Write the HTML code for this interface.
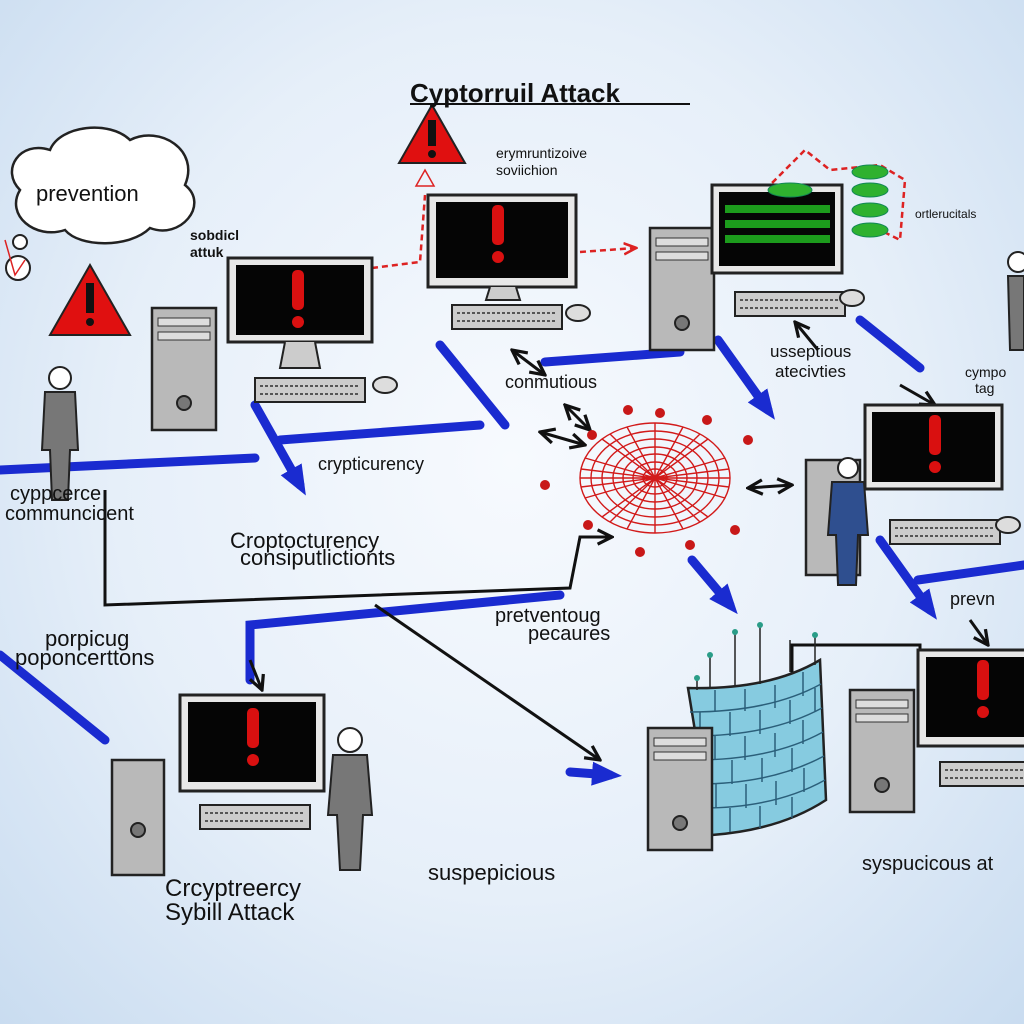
<!DOCTYPE html>
<html><head><meta charset="utf-8"><style>
html,body{margin:0;padding:0;width:1024px;height:1024px;overflow:hidden}
body{background:radial-gradient(ellipse at 50% 45%,#f7fafe 0%,#e6eff9 55%,#c9dcf0 100%);font-family:"Liberation Sans",sans-serif}
svg{position:absolute;left:0;top:0}
text{font-family:"Liberation Sans",sans-serif;fill:#111}
</style></head><body>
<svg width="1024" height="1024" viewBox="0 0 1024 1024">
<defs>
<marker id="ab" markerUnits="userSpaceOnUse" viewBox="0 0 10 10" refX="6" refY="5" markerWidth="30" markerHeight="30" orient="auto"><path d="M0,1 L10,5 L0,9 z" fill="#1a2bd0"/></marker>
<marker id="ak" markerUnits="userSpaceOnUse" viewBox="0 0 10 10" refX="9" refY="5" markerWidth="18" markerHeight="18" orient="auto"><path d="M1,1 L9,5 L1,9" fill="none" stroke="#111" stroke-width="1.8"/></marker>
<marker id="aks" markerUnits="userSpaceOnUse" viewBox="0 0 10 10" refX="1" refY="5" markerWidth="18" markerHeight="18" orient="auto"><path d="M9,1 L1,5 L9,9" fill="none" stroke="#111" stroke-width="1.8"/></marker>
<marker id="ar" markerUnits="userSpaceOnUse" viewBox="0 0 10 10" refX="8" refY="5" markerWidth="14" markerHeight="14" orient="auto"><path d="M0,1 L9,5 L0,9" fill="none" stroke="#d22" stroke-width="1.8"/></marker>
<g id="tower"><rect x="0" y="0" width="64" height="122" fill="#b9b9b9" stroke="#222" stroke-width="2.5"/><rect x="6" y="10" width="52" height="8" fill="#ddd" stroke="#333"/><rect x="6" y="24" width="52" height="8" fill="#ddd" stroke="#333"/><circle cx="32" cy="95" r="7" fill="#777" stroke="#222" stroke-width="2"/></g>
<g id="kb"><rect x="0" y="0" width="110" height="24" fill="#ccc" stroke="#222" stroke-width="2"/><path d="M5,8 H105 M5,16 H105" stroke="#555" stroke-width="2" stroke-dasharray="3 2"/></g>
<g id="excl"><rect x="-6" y="-30" width="12" height="40" rx="5" fill="#d91010"/><circle cx="0" cy="22" r="6" fill="#d91010"/></g>
</defs>

<g stroke="#1a2bd0" stroke-width="9" fill="none" stroke-linecap="round">
<path d="M0,470 L255,458"/>
<path d="M280,440 L480,425"/>
<path d="M255,405 L300,485" marker-end="url(#ab)"/>
<path d="M440,345 L505,425"/>
<path d="M545,362 L680,352"/>
<path d="M718,340 L768,410" marker-end="url(#ab)"/>
<path d="M860,320 L920,368"/>
<path d="M0,655 L105,740"/>
<path d="M250,680 L250,625 L560,595"/>
<path d="M692,560 L730,605" marker-end="url(#ab)"/>
<path d="M880,540 L930,610" marker-end="url(#ab)"/>
<path d="M918,580 L1024,565"/>
<path d="M570,772 L610,775" marker-end="url(#ab)"/>
</g>
<g stroke="#111" stroke-width="3" fill="none">
<path d="M105,490 L105,605 L570,588 L580,537 L612,537" marker-end="url(#ak)"/>
<path d="M375,605 L600,760" marker-end="url(#ak)"/>
<path d="M250,660 L262,690" marker-end="url(#ak)"/>
<path d="M512,350 L545,375" marker-start="url(#aks)" marker-end="url(#ak)"/>
<path d="M565,405 L590,430" marker-start="url(#aks)" marker-end="url(#ak)"/>
<path d="M540,432 L585,445" marker-start="url(#aks)" marker-end="url(#ak)"/>
<path d="M748,488 L792,485" marker-start="url(#aks)" marker-end="url(#ak)"/>
<path d="M795,322 L818,350" marker-start="url(#aks)"/>
<path d="M900,385 L935,405" marker-end="url(#ak)"/>
<path d="M970,620 L988,645" marker-end="url(#ak)"/>
<path d="M792,680 L792,645 L920,645 L920,662"/>
</g>
<g stroke="#d22" stroke-width="2.5" fill="none" stroke-dasharray="6 4">
<path d="M372,268 L420,262 L425,195"/>
<path d="M580,252 L635,248" marker-end="url(#ar)"/>
<path d="M765,190 L805,150 L830,170 L880,165 L905,180 L900,240 L870,225"/>
</g>

<g transform="translate(655,478)" stroke="#d21a1a" fill="none" stroke-width="1.4">
<ellipse rx="75" ry="55"/><ellipse rx="64" ry="47"/><ellipse rx="53" ry="39"/><ellipse rx="42" ry="31"/><ellipse rx="32" ry="24"/><ellipse rx="22" ry="16"/><ellipse rx="12" ry="9"/>
<path d="M-75,0 L75,0 M0,-55 L0,55 M-53,-39 L53,39 M-53,39 L53,-39 M-70,-20 L70,20 M-70,20 L70,-20 M-28,-51 L28,51 M28,-51 L-28,51 M-45,-44 L45,44 M45,-44 L-45,44 M-74,-9 L74,9 M-74,9 L74,-9"/>
</g>
<g fill="#c81818">
<circle cx="592" cy="435" r="5"/><circle cx="628" cy="410" r="5"/><circle cx="660" cy="413" r="5"/><circle cx="707" cy="420" r="5"/><circle cx="748" cy="440" r="5"/><circle cx="545" cy="485" r="5"/><circle cx="588" cy="525" r="5"/><circle cx="690" cy="545" r="5"/><circle cx="735" cy="530" r="5"/><circle cx="640" cy="552" r="5"/>
</g>

<use href="#tower" x="152" y="308"/>
<rect x="228" y="258" width="144" height="84" fill="#e8e8e8" stroke="#222" stroke-width="3"/>
<rect x="236" y="265" width="128" height="70" fill="#050505"/>
<use href="#excl" x="298" y="300"/>
<path d="M285,342 L280,368 L320,368 L315,342" fill="#ccc" stroke="#222" stroke-width="2"/>
<use href="#kb" x="255" y="378"/><ellipse cx="385" cy="385" rx="12" ry="8" fill="#ddd" stroke="#222" stroke-width="2"/>
<rect x="428" y="195" width="148" height="92" fill="#e8e8e8" stroke="#222" stroke-width="3"/>
<rect x="436" y="202" width="132" height="76" fill="#050505"/>
<use href="#excl" x="498" y="235"/>
<path d="M490,287 L486,300 L520,300 L516,287" fill="#ccc" stroke="#222" stroke-width="2"/>
<use href="#kb" x="452" y="305"/><ellipse cx="578" cy="313" rx="12" ry="8" fill="#ddd" stroke="#222" stroke-width="2"/>
<use href="#tower" x="650" y="228"/>
<rect x="712" y="185" width="130" height="88" fill="#e8e8e8" stroke="#222" stroke-width="3"/>
<rect x="719" y="192" width="116" height="74" fill="#050505"/>
<g fill="#22c022"><rect x="725" y="205" width="105" height="8" opacity=".8"/><rect x="725" y="220" width="105" height="8" opacity=".8"/><rect x="725" y="235" width="105" height="8" opacity=".8"/></g>
<g fill="#2fb12f" stroke="#185"><ellipse cx="870" cy="172" rx="18" ry="7"/><ellipse cx="870" cy="190" rx="18" ry="7"/><ellipse cx="870" cy="210" rx="18" ry="7"/><ellipse cx="870" cy="230" rx="18" ry="7"/><ellipse cx="790" cy="190" rx="22" ry="7"/></g>
<use href="#kb" x="735" y="292"/><ellipse cx="852" cy="298" rx="12" ry="8" fill="#ddd" stroke="#222" stroke-width="2"/>
<rect x="806" y="460" width="54" height="115" fill="#b9b9b9" stroke="#222" stroke-width="2.5"/>
<rect x="865" y="405" width="137" height="84" fill="#e8e8e8" stroke="#222" stroke-width="3"/>
<rect x="872" y="412" width="123" height="70" fill="#050505"/>
<use href="#excl" x="935" y="445"/>
<use href="#kb" x="890" y="520"/><ellipse cx="1008" cy="525" rx="12" ry="8" fill="#ddd" stroke="#222" stroke-width="2"/>
<rect x="112" y="760" width="52" height="115" fill="#b9b9b9" stroke="#222" stroke-width="2.5"/><circle cx="138" cy="830" r="7" fill="#777" stroke="#222" stroke-width="2"/>
<rect x="180" y="695" width="144" height="96" fill="#e8e8e8" stroke="#222" stroke-width="3"/>
<rect x="188" y="702" width="128" height="80" fill="#050505"/>
<use href="#excl" x="253" y="738"/>
<use href="#kb" x="200" y="805"/>
<use href="#tower" x="850" y="690"/>
<rect x="918" y="650" width="110" height="96" fill="#e8e8e8" stroke="#222" stroke-width="3"/>
<rect x="926" y="657" width="98" height="80" fill="#050505"/>
<use href="#excl" x="983" y="690"/>
<use href="#kb" x="940" y="762"/>

<!-- firewall -->
<path d="M688,688 Q770,690 820,660 L826,800 Q780,830 712,835 Z" fill="#86cbe0" stroke="#222" stroke-width="2.5"/>
<g stroke="#2b5f7a" stroke-width="1.5" fill="none">
<path d="M690,712 Q770,712 821,684 M692,736 Q770,736 822,708 M695,760 Q772,760 823,732 M698,784 Q772,784 824,756 M702,808 Q775,808 825,780"/>
<path d="M715,690 V712 M745,689 V711 M775,685 V708 M803,672 V696 M700,712 V736 M730,712 V736 M760,710 V734 M790,700 V724 M815,688 V712 M715,736 V760 M745,736 V760 M775,733 V757 M803,720 V744 M703,760 V784 M732,760 V784 M762,758 V782 M792,748 V772 M716,784 V808 M746,784 V808 M776,781 V805 M804,768 V792 M730,808 V832 M760,806 V828 M792,797 V818"/>
</g>
<g stroke="#222" stroke-width="1.5"><path d="M697,680 V690 M710,655 V688 M735,632 V685 M760,625 V684 M790,640 V672 M815,635 V665"/></g>
<g fill="#2a9d88"><circle cx="697" cy="678" r="3"/><circle cx="710" cy="655" r="3"/><circle cx="735" cy="632" r="3"/><circle cx="760" cy="625" r="3"/><circle cx="815" cy="635" r="3"/></g>
<use href="#tower" x="648" y="728"/>

<path d="M90,265 L130,335 L50,335 Z" fill="#e01010" stroke="#222" stroke-width="2"/>
<rect x="86" y="283" width="8" height="30" fill="#111"/><circle cx="90" cy="322" r="4" fill="#111"/>
<path d="M432,105 L465,163 L399,163 Z" fill="#e01010" stroke="#222" stroke-width="2"/>
<rect x="428" y="120" width="8" height="26" fill="#111"/><circle cx="432" cy="154" r="4" fill="#111"/>
<path d="M425,170 L434,186 L416,186 Z" fill="none" stroke="#d22" stroke-width="1.5"/>

<path d="M20,190 C0,170 20,140 50,150 C60,125 110,120 130,140 C160,125 200,150 185,185 C210,205 180,240 150,228 C130,248 80,248 65,230 C35,240 5,215 20,190 Z" fill="#fff" stroke="#222" stroke-width="2.5"/>
<circle cx="20" cy="242" r="7" fill="#fff" stroke="#222" stroke-width="2"/>
<circle cx="18" cy="268" r="12" fill="#fff" stroke="#222" stroke-width="2"/>
<path d="M5,240 L15,275 L25,260" stroke="#d22" stroke-width="1.5" fill="none"/>

<g fill="#777" stroke="#222" stroke-width="2">
<circle cx="60" cy="378" r="11" fill="#fff"/><path d="M45,392 L75,392 L78,450 L70,450 L68,500 L52,500 L50,450 L42,450 Z"/>
<circle cx="350" cy="740" r="12" fill="#fff"/><path d="M333,755 L367,755 L372,815 L363,815 L360,870 L340,870 L337,815 L328,815 Z"/>
<circle cx="1018" cy="262" r="10" fill="#fff"/><path d="M1008,276 L1024,276 L1024,350 L1010,350 Z"/>
</g>
<g stroke="#222" stroke-width="2"><circle cx="848" cy="468" r="10" fill="#fff"/><path d="M832,482 L864,482 L868,535 L858,535 L856,585 L838,585 L836,535 L828,535 Z" fill="#2f4f8f"/></g>

<text x="410" y="102" font-size="26" font-weight="bold">Cyptorruil Attack</text>
<path d="M410,104 H690" stroke="#111" stroke-width="2"/>
<text x="36" y="201" font-size="22">prevention</text>
<text x="496" y="158" font-size="14">erymruntizoive</text>
<text x="496" y="175" font-size="14">soviichion</text>
<text x="190" y="240" font-size="14" font-weight="bold">sobdicl</text>
<text x="190" y="257" font-size="14" font-weight="bold">attuk</text>
<text x="915" y="218" font-size="12">ortlerucitals</text>
<text x="505" y="388" font-size="18">conmutious</text>
<text x="770" y="357" font-size="17">usseptious</text>
<text x="775" y="377" font-size="17">atecivties</text>
<text x="965" y="377" font-size="14">cympo</text>
<text x="975" y="393" font-size="14">tag</text>
<text x="318" y="470" font-size="18">crypticurency</text>
<text x="10" y="500" font-size="20">cyppcerce</text>
<text x="5" y="520" font-size="20">communcicent</text>
<text x="230" y="548" font-size="22">Croptocturency</text>
<text x="240" y="565" font-size="22">consiputlictionts</text>
<text x="45" y="646" font-size="22">porpicug</text>
<text x="15" y="665" font-size="22">poponcerttons</text>
<text x="495" y="622" font-size="20">pretventoug</text>
<text x="528" y="640" font-size="20">pecaures</text>
<text x="950" y="605" font-size="18">prevn</text>
<text x="428" y="880" font-size="22">suspepicious</text>
<text x="862" y="870" font-size="20">syspucicous at</text>
<text x="165" y="896" font-size="24">Crcyptreercy</text>
<text x="165" y="920" font-size="24">Sybill Attack</text>
</svg>
</body></html>
